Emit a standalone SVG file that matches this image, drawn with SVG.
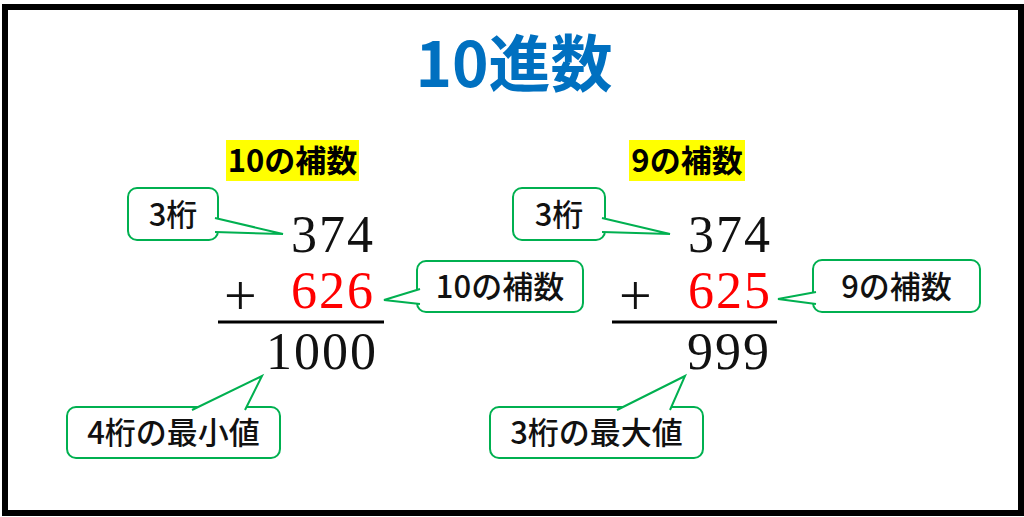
<svg xmlns="http://www.w3.org/2000/svg" width="1024" height="517" viewBox="0 0 1024 517">
<style>
.jp{font-family:"Noto Sans CJK JP","Noto Sans",sans-serif;}
.title{font-size:62px;font-weight:bold;fill:#0070C0;}
.head{font-size:31px;font-weight:bold;fill:#000;}
.hl{fill:#FFFF00;}
.box{fill:#fff;stroke:#00B050;stroke-width:2;}
.lbl{font-size:31px;font-weight:500;fill:#111;}
.num{font-family:"Liberation Serif","Times New Roman",serif;font-size:52px;letter-spacing:2px;fill:#111;}
.plus{font-family:"Liberation Serif","Times New Roman",serif;font-size:58px;fill:#111;}
.red{fill:#FF0000;}
.rule{stroke:#000;stroke-width:3;}
.tail{fill:#fff;stroke:#00B050;stroke-width:2;stroke-linejoin:miter;}
</style>
<rect x="0" y="0" width="1024" height="517" fill="#fff"/>
<rect id="frame" x="5" y="7" width="1016" height="506" fill="none" stroke="#000" stroke-width="6"/>

<g id="title"><text class="jp title" x="514" y="87" text-anchor="middle">10進数</text></g>

<g id="head10">
<rect class="hl" x="226" y="140" width="133" height="41"/>
<text class="jp head" x="292.5" y="172" text-anchor="middle">10の補数</text>
</g>
<g id="head9">
<rect class="hl" x="629" y="140" width="116" height="41"/>
<text class="jp head" x="687" y="172" text-anchor="middle">9の補数</text>
</g>

<g id="sum10">
<text class="num" x="291" y="252">374</text>
<text class="plus" x="224" y="315">+</text>
<text class="num red" x="291" y="308">626</text>
<line class="rule" x1="218" y1="322" x2="384" y2="322"/>
<text class="num" x="266" y="369">1000</text>
</g>
<g id="sum9">
<text class="num" x="688" y="252">374</text>
<text class="plus" x="619" y="315">+</text>
<text class="num red" x="688" y="308">625</text>
<line class="rule" x1="612" y1="322" x2="777" y2="322"/>
<text class="num" x="687" y="369">999</text>
</g>

<g id="c-3keta-l">
<rect class="box" x="128" y="188" width="90" height="52" rx="9"/>
<text class="jp lbl" x="173" y="226" text-anchor="middle">3桁</text>
</g>
<g id="c-10hosu">
<rect class="box" x="417" y="261" width="166" height="51" rx="9"/>
<text class="jp lbl" x="500" y="298" text-anchor="middle">10の補数</text>
</g>
<g id="c-4keta">
<rect class="box" x="67" y="407" width="213" height="51" rx="9"/>
<text class="jp lbl" x="173.5" y="444" text-anchor="middle">4桁の最小値</text>
</g>
<g id="c-3keta-r">
<rect class="box" x="513" y="188" width="92" height="52" rx="9"/>
<text class="jp lbl" x="559" y="226" text-anchor="middle">3桁</text>
</g>
<g id="c-9hosu">
<rect class="box" x="813" y="260" width="167" height="52" rx="9"/>
<text class="jp lbl" x="896.5" y="298" text-anchor="middle">9の補数</text>
</g>
<g id="c-3keta-max">
<rect class="box" x="490" y="407" width="213" height="51" rx="9"/>
<text class="jp lbl" x="596.5" y="444" text-anchor="middle">3桁の最大値</text>
</g>

<g id="connectors">
<path class="tail" d="M215 218 L283 234 L215 232"/>
<path class="tail" d="M420 289 L384 300 L420 304"/>
<path class="tail" d="M192 410 L262 376 L245 410"/>
<path class="tail" d="M602 218 L670 234 L602 232"/>
<path class="tail" d="M816 292 L778 299 L816 304"/>
<path class="tail" d="M617 410 L685 376 L670 410"/>
</g>
</svg>
